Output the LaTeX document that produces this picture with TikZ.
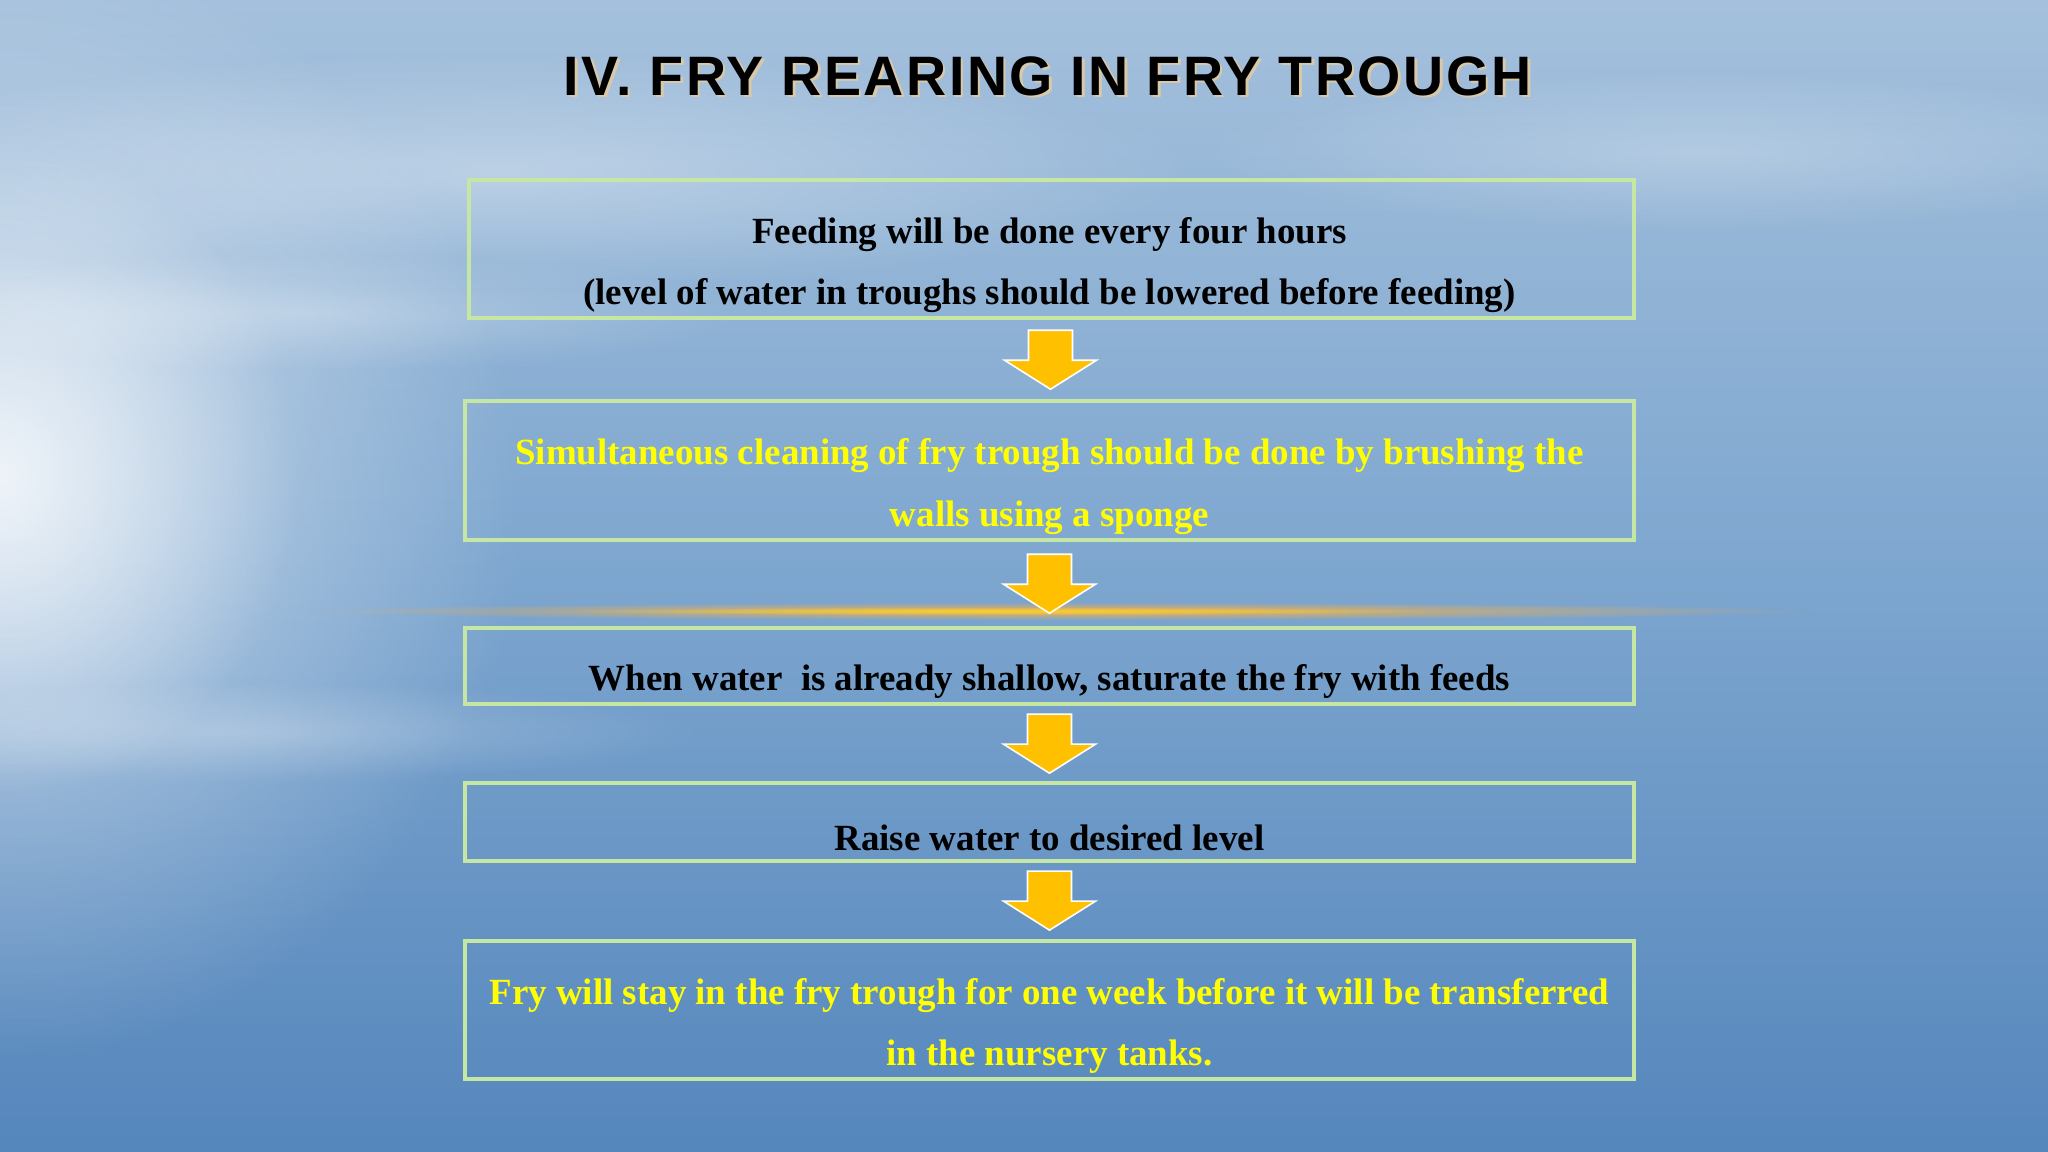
\documentclass[tikz,border=0pt]{standalone}
\usepackage{fontspec}
\setmainfont{Liberation Serif}
\newfontfamily\titlefont{Liberation Sans}[LetterSpace=4.5]
\usetikzlibrary{calc, fadings, positioning}

\definecolor{boxline}{HTML}{C6E6A4}
\definecolor{arrowfill}{HTML}{FFC000}
\definecolor{skytop}{HTML}{A4C0DC}
\definecolor{skymid}{HTML}{7DA6CF}
\definecolor{skybot}{HTML}{5586BC}
\definecolor{glowline}{HTML}{F4B24A}
\definecolor{textyellow}{HTML}{FFFF00}
\definecolor{titleshade}{HTML}{D9C9A9}
\tikzfading[name=softglow, inner color=transparent!0, outer color=transparent!100]

\begin{document}
\begin{tikzpicture}[x=0.01cm, y=0.01cm,
  stepbox/.style={draw=boxline, line width=1.1pt, minimum width=11.69cm, inner sep=0pt},
  bodytext/.style={font=\fontsize{10.5}{17.5}\selectfont\bfseries, align=center, inner sep=0pt},
  yellowtext/.style={bodytext, text=textyellow},
  flowarrow/.style={fill=arrowfill, draw=white, line width=0.45pt, line join=miter}]

\useasboundingbox (0,0) rectangle (2048,1152);
\clip (0,0) rectangle (2048,1152);

%// sky background
\shade[top color=skytop, bottom color=skybot, middle color=skymid] (0,0) rectangle (2048,1152);
\fill[white, path fading=softglow, opacity=0.55] (0,650) ellipse (520 and 560);
\fill[white, path fading=softglow, opacity=0.7] (0,680) ellipse (300 and 330);
\fill[white, path fading=softglow, opacity=0.35] (500,980) ellipse (700 and 120);
\fill[white, path fading=softglow, opacity=0.25] (1700,1000) ellipse (500 and 80);
\fill[white, path fading=softglow, opacity=0.3] (300,840) ellipse (450 and 60);
\fill[white, path fading=softglow, opacity=0.25] (250,420) ellipse (450 and 50);
\fill[glowline, path fading=softglow] (1060,541) ellipse (760 and 9);
\fill[glowline!60!yellow, path fading=softglow] (1000,541) ellipse (450 and 4);

%// title
\node[font=\titlefont\fontsize{15.8}{18}\selectfont\bfseries, text=titleshade, inner sep=0pt] (titleshadow) at (1050.5,1073.5) {IV. FRY REARING IN FRY TROUGH};
\node[font=\titlefont\fontsize{15.8}{18}\selectfont\bfseries, inner sep=0pt] (title) at (1048,1076) {IV. FRY REARING IN FRY TROUGH};

%// boxes
\node[stepbox, minimum width=11.65cm, minimum height=1.385cm] (b1) at (1051.5,903) {};
\node[stepbox, minimum height=1.385cm, below=0.79cm of b1, xshift=-0.02cm] (b2) {};
\node[stepbox, minimum height=0.765cm, below=0.84cm of b2] (b3) {};
\node[stepbox, minimum height=0.775cm, below=0.75cm of b3] (b4) {};
\node[stepbox, minimum height=1.385cm, below=0.76cm of b4] (b5) {};

\node[bodytext] (t1) at ($(b1.center)+(-2,-16)$) {Feeding will be done every four hours\\(level of water in troughs should be lowered before feeding)};
\node[yellowtext] (t2) at ($(b2.center)+(0,-16)$) {Simultaneous cleaning of fry trough should be done by brushing the\\walls using a sponge};
\node[bodytext] (t3) at ($(b3.center)+(0,-16)$) {When water~ is already shallow, saturate the fry with feeds};
\node[bodytext] (t4) at ($(b4.center)+(0,-16)$) {Raise water to desired level};
\node[yellowtext] (t5) at ($(b5.center)+(0,-16)$) {Fry will stay in the fry trough for one week before it will be transferred\\in the nursery tanks.};

%// arrows between boxes
\foreach \a/\b in {b1/b2, b2/b3, b3/b4, b4/b5}{
  \coordinate (m) at ($(\a.south)!0.5!(\b.north)$);
  \draw[flowarrow] ($(m)+(-22,29.5)$) -- ($(m)+(22,29.5)$) -- ($(m)+(22,-0.5)$) -- ($(m)+(46,-0.5)$)
    -- ($(m)+(0,-29.5)$) -- ($(m)+(-46,-0.5)$) -- ($(m)+(-22,-0.5)$) -- cycle;
}
\end{tikzpicture}
\end{document}
